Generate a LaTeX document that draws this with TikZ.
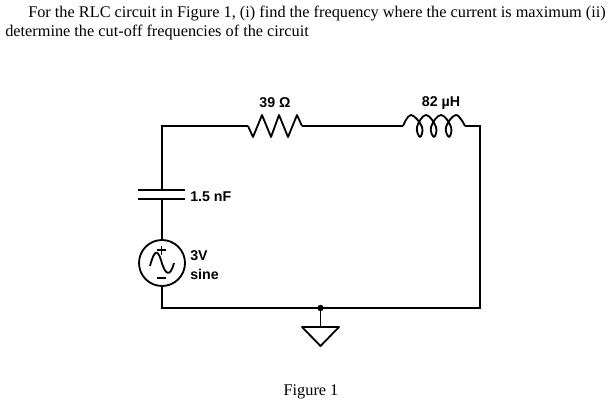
\documentclass[tikz,border=0pt]{standalone}
\usepackage{fontspec}
\setmainfont{Liberation Serif}
\setsansfont{Liberation Sans}
\tikzset{
  wire/.style={line width=1.5pt},
  part/.style={line width=1.3pt,line join=round},
  partlabel/.style={font=\sffamily\bfseries\fontsize{10.1}{12}\selectfont,inner sep=0pt},
  bodytext/.style={font=\fontsize{11.58}{13.8}\selectfont,inner sep=0pt,anchor=base west}
}
\begin{document}
\begin{tikzpicture}[x=0.025cm,y=-0.025cm]
\useasboundingbox (0,0) rectangle (609,403);

\node [bodytext] (line1) at (28,17) {For the RLC circuit in Figure 1, (i) find the frequency where the current is maximum (ii)};
\node [bodytext] (line2) at (5,36) {determine the cut-off frequencies of the circuit};
\node [bodytext,anchor=base] (figlabel) at (311,395) {Figure 1};

% corners and part ends
\coordinate (tl) at (162,126);
\coordinate (tr) at (480,126);
\coordinate (bl) at (162,308);
\coordinate (br) at (480,308);
\coordinate (resl) at (248,126);
\coordinate (resr) at (302,126);
\coordinate (indl) at (403,126);
\coordinate (indr) at (465,126);
\coordinate (captop) at (162,190);
\coordinate (capbot) at (162,199);
\coordinate (gndtop) at (320.5,327);

\node [circle,draw,part,minimum size=1.15cm,inner sep=0pt] (src) at (162,263) {};

\draw [wire] (src.south) -- (bl) -- (br) -- (tr) -- (indr);
\draw [wire] (indl) -- (resr);
\draw [wire] (resl) -- (tl) -- (captop);
\draw [wire] (capbot) -- (src.north);

% capacitor plates
\draw [part] (138,190) -- (185,190);
\draw [part,line width=1.7pt] (138,199) -- (185,199);

% resistor
\draw [part] (resl) -- (253,137) -- (262,115) -- (271,137) -- (279,115) -- (288,137) -- (297,115) -- (resr);

% inductor
\draw [part] plot [smooth,tension=0.7] coordinates {(indl) (411,115) (422,127) (420,137) (417,127) (426,115) (436,127) (434,137) (431,127) (441,115) (451,127) (449,137) (446,127) (456,115) (indr)};

% source
\draw [part] (150,266) .. controls (154,251) and (157,248) .. (161,260) .. controls (165,275) and (170,278) .. (174,263);
\draw [part] (157,250) -- (166,250);
\draw [part] (161.5,245.5) -- (161.5,254.5);
\draw [part] (157,278) -- (166,278);

% ground
\node [circle,fill,inner sep=0pt,minimum size=0.16cm] (gnddot) at (320.5,308) {};
\draw [part] (gnddot) -- (gndtop);
\draw [part] (302,327) -- (339,327) -- (320.5,346) -- cycle;

\node [partlabel] (rlabel) at (275,103) {39 Ω};
\node [partlabel] (llabel) at (441,103) {82 µH};
\node [partlabel,anchor=west] (clabel) at (190,197) {1.5 nF};
\node [partlabel,anchor=west] (vlabel) at (190,256) {3V};
\node [partlabel,anchor=west] (slabel) at (190,274) {sine};
\end{tikzpicture}
\end{document}
